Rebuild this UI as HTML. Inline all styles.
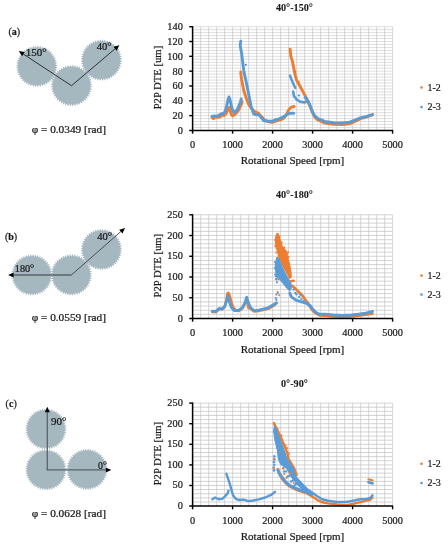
<!DOCTYPE html>
<html><head><meta charset="utf-8"><title>Figure</title>
<style>html,body{margin:0;padding:0;background:#fff}svg{display:block}</style></head>
<body>
<svg width="448" height="550" viewBox="0 0 448 550" font-family='"Liberation Serif", serif' fill="#1a1a1a">
<rect width="448" height="550" fill="#fff"/>
<path d="M55.30 66.40 L57.66 67.66 L55.17 68.63 L57.36 70.17 L54.76 70.83 L56.75 72.62 L54.10 72.96 L55.86 74.98 L53.18 75.00 L54.69 77.21 L52.03 76.91 L53.25 79.29 L50.65 78.67 L51.58 81.18 L49.07 80.25 L49.69 82.85 L47.31 81.63 L47.61 84.29 L45.40 82.78 L45.38 85.46 L43.36 83.70 L43.02 86.35 L41.23 84.36 L40.57 86.96 L39.03 84.77 L38.06 87.26 L36.80 84.90 L35.54 87.26 L34.57 84.77 L33.03 86.96 L32.37 84.36 L30.58 86.35 L30.24 83.70 L28.22 85.46 L28.20 82.78 L25.99 84.29 L26.29 81.63 L23.91 82.85 L24.53 80.25 L22.02 81.18 L22.95 78.67 L20.35 79.29 L21.57 76.91 L18.91 77.21 L20.42 75.00 L17.74 74.98 L19.50 72.96 L16.85 72.62 L18.84 70.83 L16.24 70.17 L18.43 68.63 L15.94 67.66 L18.30 66.40 L15.94 65.14 L18.43 64.17 L16.24 62.63 L18.84 61.97 L16.85 60.18 L19.50 59.84 L17.74 57.82 L20.42 57.80 L18.91 55.59 L21.57 55.89 L20.35 53.51 L22.95 54.13 L22.02 51.62 L24.53 52.55 L23.91 49.95 L26.29 51.17 L25.99 48.51 L28.20 50.02 L28.22 47.34 L30.24 49.10 L30.58 46.45 L32.37 48.44 L33.03 45.84 L34.57 48.03 L35.54 45.54 L36.80 47.90 L38.06 45.54 L39.03 48.03 L40.57 45.84 L41.23 48.44 L43.02 46.45 L43.36 49.10 L45.38 47.34 L45.40 50.02 L47.61 48.51 L47.31 51.17 L49.69 49.95 L49.07 52.55 L51.58 51.62 L50.65 54.13 L53.25 53.51 L52.03 55.89 L54.69 55.59 L53.18 57.80 L55.86 57.82 L54.10 59.84 L56.75 60.18 L54.76 61.97 L57.36 62.63 L55.17 64.17 L57.66 65.14Z" fill="#A5B7BF"/>
<path d="M90.00 85.60 L92.36 86.86 L89.87 87.83 L92.06 89.37 L89.46 90.03 L91.45 91.82 L88.80 92.16 L90.56 94.18 L87.88 94.20 L89.39 96.41 L86.73 96.11 L87.95 98.49 L85.35 97.87 L86.28 100.38 L83.77 99.45 L84.39 102.05 L82.01 100.83 L82.31 103.49 L80.10 101.98 L80.08 104.66 L78.06 102.90 L77.72 105.55 L75.93 103.56 L75.27 106.16 L73.73 103.97 L72.76 106.46 L71.50 104.10 L70.24 106.46 L69.27 103.97 L67.73 106.16 L67.07 103.56 L65.28 105.55 L64.94 102.90 L62.92 104.66 L62.90 101.98 L60.69 103.49 L60.99 100.83 L58.61 102.05 L59.23 99.45 L56.72 100.38 L57.65 97.87 L55.05 98.49 L56.27 96.11 L53.61 96.41 L55.12 94.20 L52.44 94.18 L54.20 92.16 L51.55 91.82 L53.54 90.03 L50.94 89.37 L53.13 87.83 L50.64 86.86 L53.00 85.60 L50.64 84.34 L53.13 83.37 L50.94 81.83 L53.54 81.17 L51.55 79.38 L54.20 79.04 L52.44 77.02 L55.12 77.00 L53.61 74.79 L56.27 75.09 L55.05 72.71 L57.65 73.33 L56.72 70.82 L59.23 71.75 L58.61 69.15 L60.99 70.37 L60.69 67.71 L62.90 69.22 L62.92 66.54 L64.94 68.30 L65.28 65.65 L67.07 67.64 L67.73 65.04 L69.27 67.23 L70.24 64.74 L71.50 67.10 L72.76 64.74 L73.73 67.23 L75.27 65.04 L75.93 67.64 L77.72 65.65 L78.06 68.30 L80.08 66.54 L80.10 69.22 L82.31 67.71 L82.01 70.37 L84.39 69.15 L83.77 71.75 L86.28 70.82 L85.35 73.33 L87.95 72.71 L86.73 75.09 L89.39 74.79 L87.88 77.00 L90.56 77.02 L88.80 79.04 L91.45 79.38 L89.46 81.17 L92.06 81.83 L89.87 83.37 L92.36 84.34Z" fill="#A5B7BF"/>
<path d="M119.90 60.10 L122.26 61.36 L119.77 62.33 L121.96 63.87 L119.36 64.53 L121.35 66.32 L118.70 66.66 L120.46 68.68 L117.78 68.70 L119.29 70.91 L116.63 70.61 L117.85 72.99 L115.25 72.37 L116.18 74.88 L113.67 73.95 L114.29 76.55 L111.91 75.33 L112.21 77.99 L110.00 76.48 L109.98 79.16 L107.96 77.40 L107.62 80.05 L105.83 78.06 L105.17 80.66 L103.63 78.47 L102.66 80.96 L101.40 78.60 L100.14 80.96 L99.17 78.47 L97.63 80.66 L96.97 78.06 L95.18 80.05 L94.84 77.40 L92.82 79.16 L92.80 76.48 L90.59 77.99 L90.89 75.33 L88.51 76.55 L89.13 73.95 L86.62 74.88 L87.55 72.37 L84.95 72.99 L86.17 70.61 L83.51 70.91 L85.02 68.70 L82.34 68.68 L84.10 66.66 L81.45 66.32 L83.44 64.53 L80.84 63.87 L83.03 62.33 L80.54 61.36 L82.90 60.10 L80.54 58.84 L83.03 57.87 L80.84 56.33 L83.44 55.67 L81.45 53.88 L84.10 53.54 L82.34 51.52 L85.02 51.50 L83.51 49.29 L86.17 49.59 L84.95 47.21 L87.55 47.83 L86.62 45.32 L89.13 46.25 L88.51 43.65 L90.89 44.87 L90.59 42.21 L92.80 43.72 L92.82 41.04 L94.84 42.80 L95.18 40.15 L96.97 42.14 L97.63 39.54 L99.17 41.73 L100.14 39.24 L101.40 41.60 L102.66 39.24 L103.63 41.73 L105.17 39.54 L105.83 42.14 L107.62 40.15 L107.96 42.80 L109.98 41.04 L110.00 43.72 L112.21 42.21 L111.91 44.87 L114.29 43.65 L113.67 46.25 L116.18 45.32 L115.25 47.83 L117.85 47.21 L116.63 49.59 L119.29 49.29 L117.78 51.50 L120.46 51.52 L118.70 53.54 L121.35 53.88 L119.36 55.67 L121.96 56.33 L119.77 57.87 L122.26 58.84Z" fill="#A5B7BF"/>
<line x1="71.50" y1="85.70" x2="23.40" y2="54.12" stroke="#222" stroke-width="0.90"/>
<polygon points="18.80,51.10 24.77,52.03 22.03,56.21" fill="#000"/>
<line x1="71.50" y1="85.70" x2="115.10" y2="48.76" stroke="#222" stroke-width="0.90"/>
<polygon points="119.30,45.20 116.72,50.66 113.49,46.85" fill="#000"/>
<text x="8.40" y="34.80" font-size="10.00" text-anchor="start" font-weight="normal" stroke="#1a1a1a" stroke-width="0.22" >(<tspan font-weight="bold">a</tspan>)</text>
<text x="25.70" y="56.00" font-size="9.80" text-anchor="start" font-weight="normal" textLength="20.90" lengthAdjust="spacingAndGlyphs" stroke="#1a1a1a" stroke-width="0.22" >150°</text>
<text x="96.80" y="50.00" font-size="9.80" text-anchor="start" font-weight="normal" textLength="14.80" lengthAdjust="spacingAndGlyphs" stroke="#1a1a1a" stroke-width="0.22" >40°</text>
<text x="68.80" y="132.90" font-size="9.80" text-anchor="middle" font-weight="normal" textLength="74.30" lengthAdjust="spacingAndGlyphs" stroke="#1a1a1a" stroke-width="0.22" >φ = 0.0349 [rad]</text>
<path d="M50.40 275.00 L52.76 276.26 L50.27 277.23 L52.46 278.77 L49.86 279.43 L51.85 281.22 L49.20 281.56 L50.96 283.58 L48.28 283.60 L49.79 285.81 L47.13 285.51 L48.35 287.89 L45.75 287.27 L46.68 289.78 L44.17 288.85 L44.79 291.45 L42.41 290.23 L42.71 292.89 L40.50 291.38 L40.48 294.06 L38.46 292.30 L38.12 294.95 L36.33 292.96 L35.67 295.56 L34.13 293.37 L33.16 295.86 L31.90 293.50 L30.64 295.86 L29.67 293.37 L28.13 295.56 L27.47 292.96 L25.68 294.95 L25.34 292.30 L23.32 294.06 L23.30 291.38 L21.09 292.89 L21.39 290.23 L19.01 291.45 L19.63 288.85 L17.12 289.78 L18.05 287.27 L15.45 287.89 L16.67 285.51 L14.01 285.81 L15.52 283.60 L12.84 283.58 L14.60 281.56 L11.95 281.22 L13.94 279.43 L11.34 278.77 L13.53 277.23 L11.04 276.26 L13.40 275.00 L11.04 273.74 L13.53 272.77 L11.34 271.23 L13.94 270.57 L11.95 268.78 L14.60 268.44 L12.84 266.42 L15.52 266.40 L14.01 264.19 L16.67 264.49 L15.45 262.11 L18.05 262.73 L17.12 260.22 L19.63 261.15 L19.01 258.55 L21.39 259.77 L21.09 257.11 L23.30 258.62 L23.32 255.94 L25.34 257.70 L25.68 255.05 L27.47 257.04 L28.13 254.44 L29.67 256.63 L30.64 254.14 L31.90 256.50 L33.16 254.14 L34.13 256.63 L35.67 254.44 L36.33 257.04 L38.12 255.05 L38.46 257.70 L40.48 255.94 L40.50 258.62 L42.71 257.11 L42.41 259.77 L44.79 258.55 L44.17 261.15 L46.68 260.22 L45.75 262.73 L48.35 262.11 L47.13 264.49 L49.79 264.19 L48.28 266.40 L50.96 266.42 L49.20 268.44 L51.85 268.78 L49.86 270.57 L52.46 271.23 L50.27 272.77 L52.76 273.74Z" fill="#A5B7BF"/>
<path d="M89.80 274.90 L92.16 276.16 L89.67 277.13 L91.86 278.67 L89.26 279.33 L91.25 281.12 L88.60 281.46 L90.36 283.48 L87.68 283.50 L89.19 285.71 L86.53 285.41 L87.75 287.79 L85.15 287.17 L86.08 289.68 L83.57 288.75 L84.19 291.35 L81.81 290.13 L82.11 292.79 L79.90 291.28 L79.88 293.96 L77.86 292.20 L77.52 294.85 L75.73 292.86 L75.07 295.46 L73.53 293.27 L72.56 295.76 L71.30 293.40 L70.04 295.76 L69.07 293.27 L67.53 295.46 L66.87 292.86 L65.08 294.85 L64.74 292.20 L62.72 293.96 L62.70 291.28 L60.49 292.79 L60.79 290.13 L58.41 291.35 L59.03 288.75 L56.52 289.68 L57.45 287.17 L54.85 287.79 L56.07 285.41 L53.41 285.71 L54.92 283.50 L52.24 283.48 L54.00 281.46 L51.35 281.12 L53.34 279.33 L50.74 278.67 L52.93 277.13 L50.44 276.16 L52.80 274.90 L50.44 273.64 L52.93 272.67 L50.74 271.13 L53.34 270.47 L51.35 268.68 L54.00 268.34 L52.24 266.32 L54.92 266.30 L53.41 264.09 L56.07 264.39 L54.85 262.01 L57.45 262.63 L56.52 260.12 L59.03 261.05 L58.41 258.45 L60.79 259.67 L60.49 257.01 L62.70 258.52 L62.72 255.84 L64.74 257.60 L65.08 254.95 L66.87 256.94 L67.53 254.34 L69.07 256.53 L70.04 254.04 L71.30 256.40 L72.56 254.04 L73.53 256.53 L75.07 254.34 L75.73 256.94 L77.52 254.95 L77.86 257.60 L79.88 255.84 L79.90 258.52 L82.11 257.01 L81.81 259.67 L84.19 258.45 L83.57 261.05 L86.08 260.12 L85.15 262.63 L87.75 262.01 L86.53 264.39 L89.19 264.09 L87.68 266.30 L90.36 266.32 L88.60 268.34 L91.25 268.68 L89.26 270.47 L91.86 271.13 L89.67 272.67 L92.16 273.64Z" fill="#A5B7BF"/>
<path d="M119.90 249.50 L122.26 250.76 L119.77 251.73 L121.96 253.27 L119.36 253.93 L121.35 255.72 L118.70 256.06 L120.46 258.08 L117.78 258.10 L119.29 260.31 L116.63 260.01 L117.85 262.39 L115.25 261.77 L116.18 264.28 L113.67 263.35 L114.29 265.95 L111.91 264.73 L112.21 267.39 L110.00 265.88 L109.98 268.56 L107.96 266.80 L107.62 269.45 L105.83 267.46 L105.17 270.06 L103.63 267.87 L102.66 270.36 L101.40 268.00 L100.14 270.36 L99.17 267.87 L97.63 270.06 L96.97 267.46 L95.18 269.45 L94.84 266.80 L92.82 268.56 L92.80 265.88 L90.59 267.39 L90.89 264.73 L88.51 265.95 L89.13 263.35 L86.62 264.28 L87.55 261.77 L84.95 262.39 L86.17 260.01 L83.51 260.31 L85.02 258.10 L82.34 258.08 L84.10 256.06 L81.45 255.72 L83.44 253.93 L80.84 253.27 L83.03 251.73 L80.54 250.76 L82.90 249.50 L80.54 248.24 L83.03 247.27 L80.84 245.73 L83.44 245.07 L81.45 243.28 L84.10 242.94 L82.34 240.92 L85.02 240.90 L83.51 238.69 L86.17 238.99 L84.95 236.61 L87.55 237.23 L86.62 234.72 L89.13 235.65 L88.51 233.05 L90.89 234.27 L90.59 231.61 L92.80 233.12 L92.82 230.44 L94.84 232.20 L95.18 229.55 L96.97 231.54 L97.63 228.94 L99.17 231.13 L100.14 228.64 L101.40 231.00 L102.66 228.64 L103.63 231.13 L105.17 228.94 L105.83 231.54 L107.62 229.55 L107.96 232.20 L109.98 230.44 L110.00 233.12 L112.21 231.61 L111.91 234.27 L114.29 233.05 L113.67 235.65 L116.18 234.72 L115.25 237.23 L117.85 236.61 L116.63 238.99 L119.29 238.69 L117.78 240.90 L120.46 240.92 L118.70 242.94 L121.35 243.28 L119.36 245.07 L121.96 245.73 L119.77 247.27 L122.26 248.24Z" fill="#A5B7BF"/>
<line x1="71.40" y1="275.00" x2="13.60" y2="275.00" stroke="#5c6569" stroke-width="1.50"/>
<polygon points="8.10,275.00 13.60,272.50 13.60,277.50" fill="#000"/>
<line x1="71.40" y1="275.00" x2="120.87" y2="231.53" stroke="#4a4f52" stroke-width="1.00"/>
<polygon points="125.00,227.90 122.52,233.41 119.22,229.65" fill="#000"/>
<text x="4.90" y="240.30" font-size="10.00" text-anchor="start" font-weight="normal" stroke="#1a1a1a" stroke-width="0.22" >(<tspan font-weight="bold">b</tspan>)</text>
<text x="14.80" y="271.50" font-size="9.80" text-anchor="start" font-weight="normal" textLength="19.40" lengthAdjust="spacingAndGlyphs" stroke="#1a1a1a" stroke-width="0.22" >180°</text>
<text x="97.30" y="239.50" font-size="9.80" text-anchor="start" font-weight="normal" textLength="14.80" lengthAdjust="spacingAndGlyphs" stroke="#1a1a1a" stroke-width="0.22" >40°</text>
<text x="68.80" y="320.60" font-size="9.80" text-anchor="middle" font-weight="normal" textLength="74.30" lengthAdjust="spacingAndGlyphs" stroke="#1a1a1a" stroke-width="0.22" >φ = 0.0559 [rad]</text>
<path d="M64.50 429.00 L66.86 430.26 L64.37 431.23 L66.56 432.77 L63.96 433.43 L65.95 435.22 L63.30 435.56 L65.06 437.58 L62.38 437.60 L63.89 439.81 L61.23 439.51 L62.45 441.89 L59.85 441.27 L60.78 443.78 L58.27 442.85 L58.89 445.45 L56.51 444.23 L56.81 446.89 L54.60 445.38 L54.58 448.06 L52.56 446.30 L52.22 448.95 L50.43 446.96 L49.77 449.56 L48.23 447.37 L47.26 449.86 L46.00 447.50 L44.74 449.86 L43.77 447.37 L42.23 449.56 L41.57 446.96 L39.78 448.95 L39.44 446.30 L37.42 448.06 L37.40 445.38 L35.19 446.89 L35.49 444.23 L33.11 445.45 L33.73 442.85 L31.22 443.78 L32.15 441.27 L29.55 441.89 L30.77 439.51 L28.11 439.81 L29.62 437.60 L26.94 437.58 L28.70 435.56 L26.05 435.22 L28.04 433.43 L25.44 432.77 L27.63 431.23 L25.14 430.26 L27.50 429.00 L25.14 427.74 L27.63 426.77 L25.44 425.23 L28.04 424.57 L26.05 422.78 L28.70 422.44 L26.94 420.42 L29.62 420.40 L28.11 418.19 L30.77 418.49 L29.55 416.11 L32.15 416.73 L31.22 414.22 L33.73 415.15 L33.11 412.55 L35.49 413.77 L35.19 411.11 L37.40 412.62 L37.42 409.94 L39.44 411.70 L39.78 409.05 L41.57 411.04 L42.23 408.44 L43.77 410.63 L44.74 408.14 L46.00 410.50 L47.26 408.14 L48.23 410.63 L49.77 408.44 L50.43 411.04 L52.22 409.05 L52.56 411.70 L54.58 409.94 L54.60 412.62 L56.81 411.11 L56.51 413.77 L58.89 412.55 L58.27 415.15 L60.78 414.22 L59.85 416.73 L62.45 416.11 L61.23 418.49 L63.89 418.19 L62.38 420.40 L65.06 420.42 L63.30 422.44 L65.95 422.78 L63.96 424.57 L66.56 425.23 L64.37 426.77 L66.86 427.74Z" fill="#A5B7BF"/>
<path d="M64.50 469.70 L66.86 470.96 L64.37 471.93 L66.56 473.47 L63.96 474.13 L65.95 475.92 L63.30 476.26 L65.06 478.28 L62.38 478.30 L63.89 480.51 L61.23 480.21 L62.45 482.59 L59.85 481.97 L60.78 484.48 L58.27 483.55 L58.89 486.15 L56.51 484.93 L56.81 487.59 L54.60 486.08 L54.58 488.76 L52.56 487.00 L52.22 489.65 L50.43 487.66 L49.77 490.26 L48.23 488.07 L47.26 490.56 L46.00 488.20 L44.74 490.56 L43.77 488.07 L42.23 490.26 L41.57 487.66 L39.78 489.65 L39.44 487.00 L37.42 488.76 L37.40 486.08 L35.19 487.59 L35.49 484.93 L33.11 486.15 L33.73 483.55 L31.22 484.48 L32.15 481.97 L29.55 482.59 L30.77 480.21 L28.11 480.51 L29.62 478.30 L26.94 478.28 L28.70 476.26 L26.05 475.92 L28.04 474.13 L25.44 473.47 L27.63 471.93 L25.14 470.96 L27.50 469.70 L25.14 468.44 L27.63 467.47 L25.44 465.93 L28.04 465.27 L26.05 463.48 L28.70 463.14 L26.94 461.12 L29.62 461.10 L28.11 458.89 L30.77 459.19 L29.55 456.81 L32.15 457.43 L31.22 454.92 L33.73 455.85 L33.11 453.25 L35.49 454.47 L35.19 451.81 L37.40 453.32 L37.42 450.64 L39.44 452.40 L39.78 449.75 L41.57 451.74 L42.23 449.14 L43.77 451.33 L44.74 448.84 L46.00 451.20 L47.26 448.84 L48.23 451.33 L49.77 449.14 L50.43 451.74 L52.22 449.75 L52.56 452.40 L54.58 450.64 L54.60 453.32 L56.81 451.81 L56.51 454.47 L58.89 453.25 L58.27 455.85 L60.78 454.92 L59.85 457.43 L62.45 456.81 L61.23 459.19 L63.89 458.89 L62.38 461.10 L65.06 461.12 L63.30 463.14 L65.95 463.48 L63.96 465.27 L66.56 465.93 L64.37 467.47 L66.86 468.44Z" fill="#A5B7BF"/>
<path d="M105.50 469.40 L107.86 470.66 L105.37 471.63 L107.56 473.17 L104.96 473.83 L106.95 475.62 L104.30 475.96 L106.06 477.98 L103.38 478.00 L104.89 480.21 L102.23 479.91 L103.45 482.29 L100.85 481.67 L101.78 484.18 L99.27 483.25 L99.89 485.85 L97.51 484.63 L97.81 487.29 L95.60 485.78 L95.58 488.46 L93.56 486.70 L93.22 489.35 L91.43 487.36 L90.77 489.96 L89.23 487.77 L88.26 490.26 L87.00 487.90 L85.74 490.26 L84.77 487.77 L83.23 489.96 L82.57 487.36 L80.78 489.35 L80.44 486.70 L78.42 488.46 L78.40 485.78 L76.19 487.29 L76.49 484.63 L74.11 485.85 L74.73 483.25 L72.22 484.18 L73.15 481.67 L70.55 482.29 L71.77 479.91 L69.11 480.21 L70.62 478.00 L67.94 477.98 L69.70 475.96 L67.05 475.62 L69.04 473.83 L66.44 473.17 L68.63 471.63 L66.14 470.66 L68.50 469.40 L66.14 468.14 L68.63 467.17 L66.44 465.63 L69.04 464.97 L67.05 463.18 L69.70 462.84 L67.94 460.82 L70.62 460.80 L69.11 458.59 L71.77 458.89 L70.55 456.51 L73.15 457.13 L72.22 454.62 L74.73 455.55 L74.11 452.95 L76.49 454.17 L76.19 451.51 L78.40 453.02 L78.42 450.34 L80.44 452.10 L80.78 449.45 L82.57 451.44 L83.23 448.84 L84.77 451.03 L85.74 448.54 L87.00 450.90 L88.26 448.54 L89.23 451.03 L90.77 448.84 L91.43 451.44 L93.22 449.45 L93.56 452.10 L95.58 450.34 L95.60 453.02 L97.81 451.51 L97.51 454.17 L99.89 452.95 L99.27 455.55 L101.78 454.62 L100.85 457.13 L103.45 456.51 L102.23 458.89 L104.89 458.59 L103.38 460.80 L106.06 460.82 L104.30 462.84 L106.95 463.18 L104.96 464.97 L107.56 465.63 L105.37 467.17 L107.86 468.14Z" fill="#A5B7BF"/>
<line x1="47.30" y1="469.90" x2="47.30" y2="412.30" stroke="#59636a" stroke-width="1.30"/>
<polygon points="47.30,406.80 49.80,412.30 44.80,412.30" fill="#000"/>
<line x1="47.30" y1="469.90" x2="105.80" y2="469.90" stroke="#59636a" stroke-width="1.30"/>
<polygon points="111.30,469.90 105.80,472.40 105.80,467.40" fill="#000"/>
<circle cx="47.3" cy="469.9" r="0.65" fill="#59636a"/>
<text x="5.60" y="406.80" font-size="10.00" text-anchor="start" font-weight="normal" stroke="#1a1a1a" stroke-width="0.22" >(<tspan font-weight="bold">c</tspan>)</text>
<text x="50.90" y="425.00" font-size="9.80" text-anchor="start" font-weight="normal" textLength="15.40" lengthAdjust="spacingAndGlyphs" stroke="#1a1a1a" stroke-width="0.22" >90°</text>
<text x="98.00" y="469.00" font-size="9.80" text-anchor="start" font-weight="normal" textLength="8.80" lengthAdjust="spacingAndGlyphs" stroke="#1a1a1a" stroke-width="0.22" >0°</text>
<text x="68.80" y="516.70" font-size="9.80" text-anchor="middle" font-weight="normal" textLength="74.30" lengthAdjust="spacingAndGlyphs" stroke="#1a1a1a" stroke-width="0.22" >φ = 0.0628 [rad]</text>
<line x1="192.60" y1="127.49" x2="392.50" y2="127.49" stroke="#C2C2C2" stroke-width="0.55"/>
<line x1="192.60" y1="124.52" x2="392.50" y2="124.52" stroke="#C2C2C2" stroke-width="0.55"/>
<line x1="192.60" y1="121.56" x2="392.50" y2="121.56" stroke="#C2C2C2" stroke-width="0.55"/>
<line x1="192.60" y1="118.59" x2="392.50" y2="118.59" stroke="#C2C2C2" stroke-width="0.55"/>
<line x1="192.60" y1="115.63" x2="392.50" y2="115.63" stroke="#C2C2C2" stroke-width="0.55"/>
<line x1="192.60" y1="112.66" x2="392.50" y2="112.66" stroke="#C2C2C2" stroke-width="0.55"/>
<line x1="192.60" y1="109.70" x2="392.50" y2="109.70" stroke="#C2C2C2" stroke-width="0.55"/>
<line x1="192.60" y1="106.74" x2="392.50" y2="106.74" stroke="#C2C2C2" stroke-width="0.55"/>
<line x1="192.60" y1="103.77" x2="392.50" y2="103.77" stroke="#C2C2C2" stroke-width="0.55"/>
<line x1="192.60" y1="100.81" x2="392.50" y2="100.81" stroke="#C2C2C2" stroke-width="0.55"/>
<line x1="192.60" y1="97.84" x2="392.50" y2="97.84" stroke="#C2C2C2" stroke-width="0.55"/>
<line x1="192.60" y1="94.88" x2="392.50" y2="94.88" stroke="#C2C2C2" stroke-width="0.55"/>
<line x1="192.60" y1="91.91" x2="392.50" y2="91.91" stroke="#C2C2C2" stroke-width="0.55"/>
<line x1="192.60" y1="88.95" x2="392.50" y2="88.95" stroke="#C2C2C2" stroke-width="0.55"/>
<line x1="192.60" y1="85.99" x2="392.50" y2="85.99" stroke="#C2C2C2" stroke-width="0.55"/>
<line x1="192.60" y1="83.02" x2="392.50" y2="83.02" stroke="#C2C2C2" stroke-width="0.55"/>
<line x1="192.60" y1="80.06" x2="392.50" y2="80.06" stroke="#C2C2C2" stroke-width="0.55"/>
<line x1="192.60" y1="77.09" x2="392.50" y2="77.09" stroke="#C2C2C2" stroke-width="0.55"/>
<line x1="192.60" y1="74.13" x2="392.50" y2="74.13" stroke="#C2C2C2" stroke-width="0.55"/>
<line x1="192.60" y1="71.16" x2="392.50" y2="71.16" stroke="#C2C2C2" stroke-width="0.55"/>
<line x1="192.60" y1="68.20" x2="392.50" y2="68.20" stroke="#C2C2C2" stroke-width="0.55"/>
<line x1="192.60" y1="65.24" x2="392.50" y2="65.24" stroke="#C2C2C2" stroke-width="0.55"/>
<line x1="192.60" y1="62.27" x2="392.50" y2="62.27" stroke="#C2C2C2" stroke-width="0.55"/>
<line x1="192.60" y1="59.31" x2="392.50" y2="59.31" stroke="#C2C2C2" stroke-width="0.55"/>
<line x1="192.60" y1="56.34" x2="392.50" y2="56.34" stroke="#C2C2C2" stroke-width="0.55"/>
<line x1="192.60" y1="53.38" x2="392.50" y2="53.38" stroke="#C2C2C2" stroke-width="0.55"/>
<line x1="192.60" y1="50.41" x2="392.50" y2="50.41" stroke="#C2C2C2" stroke-width="0.55"/>
<line x1="192.60" y1="47.45" x2="392.50" y2="47.45" stroke="#C2C2C2" stroke-width="0.55"/>
<line x1="192.60" y1="44.49" x2="392.50" y2="44.49" stroke="#C2C2C2" stroke-width="0.55"/>
<line x1="192.60" y1="41.52" x2="392.50" y2="41.52" stroke="#C2C2C2" stroke-width="0.55"/>
<line x1="192.60" y1="38.56" x2="392.50" y2="38.56" stroke="#C2C2C2" stroke-width="0.55"/>
<line x1="192.60" y1="35.59" x2="392.50" y2="35.59" stroke="#C2C2C2" stroke-width="0.55"/>
<line x1="192.60" y1="32.63" x2="392.50" y2="32.63" stroke="#C2C2C2" stroke-width="0.55"/>
<line x1="192.60" y1="29.66" x2="392.50" y2="29.66" stroke="#C2C2C2" stroke-width="0.55"/>
<line x1="192.60" y1="26.70" x2="392.50" y2="26.70" stroke="#C2C2C2" stroke-width="0.55"/>
<line x1="200.60" y1="26.70" x2="200.60" y2="130.45" stroke="#C2C2C2" stroke-width="0.65"/>
<line x1="208.60" y1="26.70" x2="208.60" y2="130.45" stroke="#C2C2C2" stroke-width="0.65"/>
<line x1="216.60" y1="26.70" x2="216.60" y2="130.45" stroke="#C2C2C2" stroke-width="0.65"/>
<line x1="224.60" y1="26.70" x2="224.60" y2="130.45" stroke="#C2C2C2" stroke-width="0.65"/>
<line x1="232.60" y1="26.70" x2="232.60" y2="130.45" stroke="#C2C2C2" stroke-width="0.65"/>
<line x1="240.60" y1="26.70" x2="240.60" y2="130.45" stroke="#C2C2C2" stroke-width="0.65"/>
<line x1="248.60" y1="26.70" x2="248.60" y2="130.45" stroke="#C2C2C2" stroke-width="0.65"/>
<line x1="256.60" y1="26.70" x2="256.60" y2="130.45" stroke="#C2C2C2" stroke-width="0.65"/>
<line x1="264.60" y1="26.70" x2="264.60" y2="130.45" stroke="#C2C2C2" stroke-width="0.65"/>
<line x1="272.60" y1="26.70" x2="272.60" y2="130.45" stroke="#C2C2C2" stroke-width="0.65"/>
<line x1="280.60" y1="26.70" x2="280.60" y2="130.45" stroke="#C2C2C2" stroke-width="0.65"/>
<line x1="288.60" y1="26.70" x2="288.60" y2="130.45" stroke="#C2C2C2" stroke-width="0.65"/>
<line x1="296.60" y1="26.70" x2="296.60" y2="130.45" stroke="#C2C2C2" stroke-width="0.65"/>
<line x1="304.60" y1="26.70" x2="304.60" y2="130.45" stroke="#C2C2C2" stroke-width="0.65"/>
<line x1="312.60" y1="26.70" x2="312.60" y2="130.45" stroke="#C2C2C2" stroke-width="0.65"/>
<line x1="320.60" y1="26.70" x2="320.60" y2="130.45" stroke="#C2C2C2" stroke-width="0.65"/>
<line x1="328.60" y1="26.70" x2="328.60" y2="130.45" stroke="#C2C2C2" stroke-width="0.65"/>
<line x1="336.60" y1="26.70" x2="336.60" y2="130.45" stroke="#C2C2C2" stroke-width="0.65"/>
<line x1="344.60" y1="26.70" x2="344.60" y2="130.45" stroke="#C2C2C2" stroke-width="0.65"/>
<line x1="352.60" y1="26.70" x2="352.60" y2="130.45" stroke="#C2C2C2" stroke-width="0.65"/>
<line x1="360.60" y1="26.70" x2="360.60" y2="130.45" stroke="#C2C2C2" stroke-width="0.65"/>
<line x1="368.60" y1="26.70" x2="368.60" y2="130.45" stroke="#C2C2C2" stroke-width="0.65"/>
<line x1="376.60" y1="26.70" x2="376.60" y2="130.45" stroke="#C2C2C2" stroke-width="0.65"/>
<line x1="384.60" y1="26.70" x2="384.60" y2="130.45" stroke="#C2C2C2" stroke-width="0.65"/>
<line x1="392.60" y1="26.70" x2="392.60" y2="130.45" stroke="#C2C2C2" stroke-width="0.65"/>
<polyline points="212.1,117.5 213.5,118.6 215.3,117.0 217.5,117.3 219.7,117.0 222.0,115.2 224.2,115.7 226.0,113.5 227.8,109.9 229.1,107.2 230.0,109.9 231.3,114.4 232.7,115.9 234.9,114.4 237.1,112.1 239.4,108.6 241.2,104.5 242.1,101.6" fill="none" stroke="#ED7D31" stroke-width="2.90" stroke-linecap="round" stroke-linejoin="round"/>
<polyline points="240.8,71.9 241.1,75.9 241.7,80.0 243.8,90.7 246.5,98.7 248.5,104.1 251.5,108.5 254.6,111.5 257.9,112.8 261.2,116.2 264.4,119.9 268.4,121.8 272.4,122.3 276.4,120.8 280.4,119.9 283.8,118.2 286.5,114.8 288.5,110.1 291.2,107.1 294.1,106.5" fill="none" stroke="#ED7D31" stroke-width="2.90" stroke-linecap="round" stroke-linejoin="round"/>
<polyline points="290.1,49.1 290.8,55.8 292.4,61.2 293.7,67.9 295.1,74.6 296.5,80.0 299.9,86.0 303.2,92.1 305.6,96.7 308.6,103.0 310.6,107.6 312.6,113.0 315.0,117.2 317.5,119.8 324.6,123.0 333.6,124.3 342.5,124.6 349.6,123.7 355.0,121.4 360.4,118.7 366.6,116.8 372.5,114.8" fill="none" stroke="#ED7D31" stroke-width="2.90" stroke-linecap="round" stroke-linejoin="round"/>
<polyline points="211.9,116.3 213.9,115.9 216.6,116.3 219.3,115.0 221.5,113.7 223.3,113.7 225.1,111.4 226.9,105.2 228.0,99.8 228.9,96.9 229.8,98.9 230.4,101.6 231.8,107.9 233.6,112.3 235.8,111.4 238.0,107.9 240.3,102.5 241.2,98.9" fill="none" stroke="#5B9BD5" stroke-width="2.90" stroke-linecap="round" stroke-linejoin="round"/>
<polyline points="240.8,41.1 240.2,45.1 240.8,49.1 241.7,53.8 242.4,59.8 243.1,65.2 243.8,70.5 244.8,75.9 245.8,80.0 248.5,93.4 251.2,106.8 253.9,114.2 256.6,114.8 258.6,114.6 261.2,117.5 263.9,120.8 268.4,121.2 272.4,121.2 275.1,119.9 279.1,118.8 283.1,117.2 286.5,114.8 289.8,113.2 293.8,113.2" fill="none" stroke="#5B9BD5" stroke-width="2.90" stroke-linecap="round" stroke-linejoin="round"/>
<polyline points="290.0,75.6 291.7,80.0 293.9,85.1 295.4,88.0" fill="none" stroke="#5B9BD5" stroke-width="2.50" stroke-linecap="round" stroke-linejoin="round"/>
<polyline points="293.2,91.6 293.9,96.0 296.8,99.6 300.5,101.8 304.8,102.5 307.0,100.8" fill="none" stroke="#5B9BD5" stroke-width="2.60" stroke-linecap="round" stroke-linejoin="round"/>
<polyline points="305.0,97.5 306.6,98.7 308.6,102.1 310.6,106.8 312.6,112.1 315.0,116.2 317.5,118.2 324.6,121.4 333.6,122.7 342.5,123.0 349.6,122.1 355.0,120.0 360.4,117.9 366.6,116.4 372.5,114.6" fill="none" stroke="#5B9BD5" stroke-width="2.90" stroke-linecap="round" stroke-linejoin="round"/>
<circle cx="245.8" cy="64.8" r="1.0" fill="#4f81b5"/>
<circle cx="298.9" cy="95.6" r="1.0" fill="#4f81b5"/>
<circle cx="304.6" cy="102.3" r="0.8" fill="#c9793f"/>
<circle cx="307.6" cy="102.6" r="0.8" fill="#c9793f"/>
<circle cx="294.9" cy="87.5" r="0.8" fill="#c9793f"/>
<circle cx="299.0" cy="81.5" r="0.8" fill="#c9793f"/>
<circle cx="295.6" cy="71.5" r="0.8" fill="#c9793f"/>
<line x1="192.60" y1="26.10" x2="192.60" y2="133.65" stroke="#000" stroke-width="1.5"/>
<line x1="189.20" y1="130.45" x2="393.10" y2="130.45" stroke="#000" stroke-width="1.5"/>
<text x="182.80" y="133.85" font-size="10.30" text-anchor="end" font-weight="normal" stroke="#1a1a1a" stroke-width="0.22" >0</text>
<line x1="189.20" y1="115.63" x2="192.60" y2="115.63" stroke="#000" stroke-width="1.4"/>
<text x="182.80" y="119.03" font-size="10.30" text-anchor="end" font-weight="normal" stroke="#1a1a1a" stroke-width="0.22" >20</text>
<line x1="189.20" y1="100.81" x2="192.60" y2="100.81" stroke="#000" stroke-width="1.4"/>
<text x="182.80" y="104.21" font-size="10.30" text-anchor="end" font-weight="normal" stroke="#1a1a1a" stroke-width="0.22" >40</text>
<line x1="189.20" y1="85.99" x2="192.60" y2="85.99" stroke="#000" stroke-width="1.4"/>
<text x="182.80" y="89.39" font-size="10.30" text-anchor="end" font-weight="normal" stroke="#1a1a1a" stroke-width="0.22" >60</text>
<line x1="189.20" y1="71.16" x2="192.60" y2="71.16" stroke="#000" stroke-width="1.4"/>
<text x="182.80" y="74.56" font-size="10.30" text-anchor="end" font-weight="normal" stroke="#1a1a1a" stroke-width="0.22" >80</text>
<line x1="189.20" y1="56.34" x2="192.60" y2="56.34" stroke="#000" stroke-width="1.4"/>
<text x="182.80" y="59.74" font-size="10.30" text-anchor="end" font-weight="normal" stroke="#1a1a1a" stroke-width="0.22" >100</text>
<line x1="189.20" y1="41.52" x2="192.60" y2="41.52" stroke="#000" stroke-width="1.4"/>
<text x="182.80" y="44.92" font-size="10.30" text-anchor="end" font-weight="normal" stroke="#1a1a1a" stroke-width="0.22" >120</text>
<line x1="189.20" y1="26.70" x2="192.60" y2="26.70" stroke="#000" stroke-width="1.4"/>
<text x="182.80" y="30.10" font-size="10.30" text-anchor="end" font-weight="normal" stroke="#1a1a1a" stroke-width="0.22" >140</text>
<text x="192.60" y="148.05" font-size="10.30" text-anchor="middle" font-weight="normal" stroke="#1a1a1a" stroke-width="0.22" >0</text>
<line x1="232.60" y1="130.45" x2="232.60" y2="133.65" stroke="#000" stroke-width="1.4"/>
<text x="232.60" y="148.05" font-size="10.30" text-anchor="middle" font-weight="normal" stroke="#1a1a1a" stroke-width="0.22" >1000</text>
<line x1="272.60" y1="130.45" x2="272.60" y2="133.65" stroke="#000" stroke-width="1.4"/>
<text x="272.60" y="148.05" font-size="10.30" text-anchor="middle" font-weight="normal" stroke="#1a1a1a" stroke-width="0.22" >2000</text>
<line x1="312.60" y1="130.45" x2="312.60" y2="133.65" stroke="#000" stroke-width="1.4"/>
<text x="312.60" y="148.05" font-size="10.30" text-anchor="middle" font-weight="normal" stroke="#1a1a1a" stroke-width="0.22" >3000</text>
<line x1="352.60" y1="130.45" x2="352.60" y2="133.65" stroke="#000" stroke-width="1.4"/>
<text x="352.60" y="148.05" font-size="10.30" text-anchor="middle" font-weight="normal" stroke="#1a1a1a" stroke-width="0.22" >4000</text>
<line x1="392.60" y1="130.45" x2="392.60" y2="133.65" stroke="#000" stroke-width="1.4"/>
<text x="392.60" y="148.05" font-size="10.30" text-anchor="middle" font-weight="normal" stroke="#1a1a1a" stroke-width="0.22" >5000</text>
<text x="292.50" y="164.45" font-size="10.30" text-anchor="middle" font-weight="normal" textLength="103.50" lengthAdjust="spacingAndGlyphs" stroke="#1a1a1a" stroke-width="0.22" >Rotational Speed [rpm]</text>
<text x="0.00" y="0.00" font-size="10.30" text-anchor="middle" font-weight="normal" textLength="63.50" lengthAdjust="spacingAndGlyphs" stroke="#1a1a1a" stroke-width="0.22" transform="translate(160.9,77.57) rotate(-90)">P2P DTE [um]</text>
<text x="294.40" y="10.90" font-size="10.20" text-anchor="middle" font-weight="bold" stroke="#1a1a1a" stroke-width="0.08" >40°-150°</text>
<circle cx="421.5" cy="87.5" r="1.3" fill="#ED7D31"/>
<circle cx="421.5" cy="107.1" r="1.3" fill="#5B9BD5"/>
<text x="427.60" y="91.00" font-size="10.20" text-anchor="start" font-weight="normal" textLength="13.20" lengthAdjust="spacingAndGlyphs" stroke="#1a1a1a" stroke-width="0.22" >1-2</text>
<text x="427.40" y="110.20" font-size="10.20" text-anchor="start" font-weight="normal" textLength="13.40" lengthAdjust="spacingAndGlyphs" stroke="#1a1a1a" stroke-width="0.22" >2-3</text>
<line x1="192.60" y1="314.35" x2="392.50" y2="314.35" stroke="#ACACAC" stroke-width="0.55"/>
<line x1="192.60" y1="310.20" x2="392.50" y2="310.20" stroke="#ACACAC" stroke-width="0.55"/>
<line x1="192.60" y1="306.06" x2="392.50" y2="306.06" stroke="#ACACAC" stroke-width="0.55"/>
<line x1="192.60" y1="301.91" x2="392.50" y2="301.91" stroke="#ACACAC" stroke-width="0.55"/>
<line x1="192.60" y1="297.76" x2="392.50" y2="297.76" stroke="#ACACAC" stroke-width="0.55"/>
<line x1="192.60" y1="293.61" x2="392.50" y2="293.61" stroke="#ACACAC" stroke-width="0.55"/>
<line x1="192.60" y1="289.46" x2="392.50" y2="289.46" stroke="#ACACAC" stroke-width="0.55"/>
<line x1="192.60" y1="285.32" x2="392.50" y2="285.32" stroke="#ACACAC" stroke-width="0.55"/>
<line x1="192.60" y1="281.17" x2="392.50" y2="281.17" stroke="#ACACAC" stroke-width="0.55"/>
<line x1="192.60" y1="277.02" x2="392.50" y2="277.02" stroke="#ACACAC" stroke-width="0.55"/>
<line x1="192.60" y1="272.87" x2="392.50" y2="272.87" stroke="#ACACAC" stroke-width="0.55"/>
<line x1="192.60" y1="268.72" x2="392.50" y2="268.72" stroke="#ACACAC" stroke-width="0.55"/>
<line x1="192.60" y1="264.58" x2="392.50" y2="264.58" stroke="#ACACAC" stroke-width="0.55"/>
<line x1="192.60" y1="260.43" x2="392.50" y2="260.43" stroke="#ACACAC" stroke-width="0.55"/>
<line x1="192.60" y1="256.28" x2="392.50" y2="256.28" stroke="#ACACAC" stroke-width="0.55"/>
<line x1="192.60" y1="252.13" x2="392.50" y2="252.13" stroke="#ACACAC" stroke-width="0.55"/>
<line x1="192.60" y1="247.98" x2="392.50" y2="247.98" stroke="#ACACAC" stroke-width="0.55"/>
<line x1="192.60" y1="243.84" x2="392.50" y2="243.84" stroke="#ACACAC" stroke-width="0.55"/>
<line x1="192.60" y1="239.69" x2="392.50" y2="239.69" stroke="#ACACAC" stroke-width="0.55"/>
<line x1="192.60" y1="235.54" x2="392.50" y2="235.54" stroke="#ACACAC" stroke-width="0.55"/>
<line x1="192.60" y1="231.39" x2="392.50" y2="231.39" stroke="#ACACAC" stroke-width="0.55"/>
<line x1="192.60" y1="227.24" x2="392.50" y2="227.24" stroke="#ACACAC" stroke-width="0.55"/>
<line x1="192.60" y1="223.10" x2="392.50" y2="223.10" stroke="#ACACAC" stroke-width="0.55"/>
<line x1="192.60" y1="218.95" x2="392.50" y2="218.95" stroke="#ACACAC" stroke-width="0.55"/>
<line x1="192.60" y1="214.80" x2="392.50" y2="214.80" stroke="#ACACAC" stroke-width="0.55"/>
<line x1="200.60" y1="214.80" x2="200.60" y2="318.50" stroke="#C2C2C2" stroke-width="0.65"/>
<line x1="208.60" y1="214.80" x2="208.60" y2="318.50" stroke="#C2C2C2" stroke-width="0.65"/>
<line x1="216.60" y1="214.80" x2="216.60" y2="318.50" stroke="#C2C2C2" stroke-width="0.65"/>
<line x1="224.60" y1="214.80" x2="224.60" y2="318.50" stroke="#C2C2C2" stroke-width="0.65"/>
<line x1="232.60" y1="214.80" x2="232.60" y2="318.50" stroke="#C2C2C2" stroke-width="0.65"/>
<line x1="240.60" y1="214.80" x2="240.60" y2="318.50" stroke="#C2C2C2" stroke-width="0.65"/>
<line x1="248.60" y1="214.80" x2="248.60" y2="318.50" stroke="#C2C2C2" stroke-width="0.65"/>
<line x1="256.60" y1="214.80" x2="256.60" y2="318.50" stroke="#C2C2C2" stroke-width="0.65"/>
<line x1="264.60" y1="214.80" x2="264.60" y2="318.50" stroke="#C2C2C2" stroke-width="0.65"/>
<line x1="272.60" y1="214.80" x2="272.60" y2="318.50" stroke="#C2C2C2" stroke-width="0.65"/>
<line x1="280.60" y1="214.80" x2="280.60" y2="318.50" stroke="#C2C2C2" stroke-width="0.65"/>
<line x1="288.60" y1="214.80" x2="288.60" y2="318.50" stroke="#C2C2C2" stroke-width="0.65"/>
<line x1="296.60" y1="214.80" x2="296.60" y2="318.50" stroke="#C2C2C2" stroke-width="0.65"/>
<line x1="304.60" y1="214.80" x2="304.60" y2="318.50" stroke="#C2C2C2" stroke-width="0.65"/>
<line x1="312.60" y1="214.80" x2="312.60" y2="318.50" stroke="#C2C2C2" stroke-width="0.65"/>
<line x1="320.60" y1="214.80" x2="320.60" y2="318.50" stroke="#C2C2C2" stroke-width="0.65"/>
<line x1="328.60" y1="214.80" x2="328.60" y2="318.50" stroke="#C2C2C2" stroke-width="0.65"/>
<line x1="336.60" y1="214.80" x2="336.60" y2="318.50" stroke="#C2C2C2" stroke-width="0.65"/>
<line x1="344.60" y1="214.80" x2="344.60" y2="318.50" stroke="#C2C2C2" stroke-width="0.65"/>
<line x1="352.60" y1="214.80" x2="352.60" y2="318.50" stroke="#C2C2C2" stroke-width="0.65"/>
<line x1="360.60" y1="214.80" x2="360.60" y2="318.50" stroke="#C2C2C2" stroke-width="0.65"/>
<line x1="368.60" y1="214.80" x2="368.60" y2="318.50" stroke="#C2C2C2" stroke-width="0.65"/>
<line x1="376.60" y1="214.80" x2="376.60" y2="318.50" stroke="#C2C2C2" stroke-width="0.65"/>
<line x1="384.60" y1="214.80" x2="384.60" y2="318.50" stroke="#C2C2C2" stroke-width="0.65"/>
<line x1="392.60" y1="214.80" x2="392.60" y2="318.50" stroke="#C2C2C2" stroke-width="0.65"/>
<polyline points="212.5,311.9 216.0,311.9 219.3,309.0 222.0,309.4 224.6,307.1 226.6,299.5 227.5,293.5 228.3,292.9 230.0,296.8 231.5,303.0 233.3,307.5 235.8,310.7 238.9,310.9 242.5,308.1 245.2,303.0 246.6,300.0 247.5,303.0 248.6,308.0 250.5,308.4 254.1,311.4 258.6,311.0 263.9,309.6 269.3,308.2 273.8,305.5 276.4,303.2" fill="none" stroke="#ED7D31" stroke-width="2.70" stroke-linecap="round" stroke-linejoin="round"/>
<polygon points="277.0,233.4 275.6,237.4 275.6,242.8 276.3,248.1 277.5,251.0 278.7,257.5 280.8,261.2 283.4,267.0 286.4,272.3 289.5,278.5 291.2,277.0 291.0,272.3 289.9,266.0 288.7,261.2 287.2,256.0 287.3,252.6 285.6,250.5 282.3,246.8 280.3,240.1 278.3,234.1" fill="#ED7D31" stroke="#ED7D31" stroke-width="1.2" stroke-linejoin="round"/>
<circle cx="275.0" cy="240.0" r="1.0" fill="#ED7D31"/>
<circle cx="275.2" cy="246.0" r="1.0" fill="#ED7D31"/>
<circle cx="279.6" cy="236.5" r="1.0" fill="#ED7D31"/>
<circle cx="281.8" cy="242.5" r="1.0" fill="#ED7D31"/>
<circle cx="284.3" cy="247.6" r="1.0" fill="#ED7D31"/>
<circle cx="288.2" cy="252.2" r="1.0" fill="#ED7D31"/>
<circle cx="288.6" cy="257.0" r="1.0" fill="#ED7D31"/>
<circle cx="276.4" cy="252.5" r="1.0" fill="#ED7D31"/>
<circle cx="283.0" cy="252.0" r="1.0" fill="#ED7D31"/>
<polyline points="290.6,281.2 293.8,280.8" fill="none" stroke="#ED7D31" stroke-width="2.40" stroke-linecap="round" stroke-linejoin="round"/>
<polyline points="292.0,285.7 295.9,289.1 299.8,293.0 302.6,295.8 306.5,301.3 308.2,303.4 309.5,306.0 312.2,310.0 315.6,313.4 319.6,315.4 324.6,315.6 333.6,316.5 342.5,316.9 351.4,316.5 358.6,315.6 365.7,314.7 372.5,313.6" fill="none" stroke="#ED7D31" stroke-width="2.70" stroke-linecap="round" stroke-linejoin="round"/>
<circle cx="275.8" cy="279.0" r="1.0" fill="#ED7D31"/>
<circle cx="278.6" cy="279.6" r="1.0" fill="#ED7D31"/>
<circle cx="277.5" cy="291.9" r="1.0" fill="#ED7D31"/>
<circle cx="279.2" cy="295.2" r="1.0" fill="#ED7D31"/>
<polyline points="212.1,311.4 215.7,311.4 219.3,308.4 222.0,308.9 224.6,306.6 226.8,300.4 227.9,295.9 229.1,301.3 231.4,307.5 234.5,310.7 238.9,310.2 242.5,307.5 245.2,302.1 246.6,297.1 248.2,302.1 250.5,307.5 254.1,310.7 258.6,310.2 263.9,308.9 268.0,307.8 272.5,305.2 276.4,303.0" fill="none" stroke="#5B9BD5" stroke-width="2.80" stroke-linecap="round" stroke-linejoin="round"/>
<polygon points="276.9,257.3 275.3,264.5 275.8,272.3 276.4,276.2 278.6,277.9 282.5,282.4 285.9,286.8 288.6,289.6 289.8,290.4 291.2,288.5 290.9,283.5 287.5,277.9 284.7,272.3 282.0,266.7 279.2,259.5" fill="#5B9BD5" stroke="#5B9BD5" stroke-width="1.2" stroke-linejoin="round"/>
<circle cx="274.8" cy="262.0" r="1.0" fill="#5B9BD5"/>
<circle cx="274.6" cy="268.0" r="1.0" fill="#5B9BD5"/>
<circle cx="275.0" cy="274.5" r="1.0" fill="#5B9BD5"/>
<circle cx="277.0" cy="278.2" r="1.0" fill="#5B9BD5"/>
<polyline points="289.8,293.0 291.4,296.9 295.9,300.2 301.5,301.9 305.9,303.0 310.4,305.8 312.4,308.6 315.6,312.2 319.6,314.2 324.6,314.1 333.6,315.0 342.5,315.4 351.4,315.0 358.6,314.1 365.7,313.2 372.5,311.4" fill="none" stroke="#5B9BD5" stroke-width="2.90" stroke-linecap="round" stroke-linejoin="round"/>
<circle cx="293.7" cy="289.6" r="1.2" fill="#5B9BD5"/>
<circle cx="295.3" cy="293.0" r="1.2" fill="#5B9BD5"/>
<circle cx="296.5" cy="294.3" r="1.2" fill="#5B9BD5"/>
<circle cx="299.3" cy="296.9" r="1.2" fill="#5B9BD5"/>
<circle cx="301.5" cy="299.1" r="1.2" fill="#5B9BD5"/>
<circle cx="300.4" cy="294.6" r="1.2" fill="#5B9BD5"/>
<circle cx="303.8" cy="300.9" r="1.2" fill="#5B9BD5"/>
<circle cx="275.8" cy="276.2" r="1.1" fill="#5B9BD5"/>
<circle cx="276.4" cy="279.6" r="1.1" fill="#5B9BD5"/>
<circle cx="276.9" cy="282.4" r="1.1" fill="#5B9BD5"/>
<circle cx="278.0" cy="293.0" r="1.1" fill="#5B9BD5"/>
<circle cx="276.4" cy="294.6" r="1.1" fill="#5B9BD5"/>
<circle cx="275.8" cy="298.0" r="1.1" fill="#5B9BD5"/>
<circle cx="276.4" cy="299.9" r="1.1" fill="#5B9BD5"/>
<line x1="192.60" y1="214.20" x2="192.60" y2="321.70" stroke="#000" stroke-width="1.5"/>
<line x1="189.20" y1="318.50" x2="393.10" y2="318.50" stroke="#000" stroke-width="1.5"/>
<text x="182.80" y="321.70" font-size="10.30" text-anchor="end" font-weight="normal" stroke="#1a1a1a" stroke-width="0.22" >0</text>
<line x1="189.20" y1="297.76" x2="192.60" y2="297.76" stroke="#000" stroke-width="1.4"/>
<text x="182.80" y="300.96" font-size="10.30" text-anchor="end" font-weight="normal" stroke="#1a1a1a" stroke-width="0.22" >50</text>
<line x1="189.20" y1="277.02" x2="192.60" y2="277.02" stroke="#000" stroke-width="1.4"/>
<text x="182.80" y="280.22" font-size="10.30" text-anchor="end" font-weight="normal" stroke="#1a1a1a" stroke-width="0.22" >100</text>
<line x1="189.20" y1="256.28" x2="192.60" y2="256.28" stroke="#000" stroke-width="1.4"/>
<text x="182.80" y="259.48" font-size="10.30" text-anchor="end" font-weight="normal" stroke="#1a1a1a" stroke-width="0.22" >150</text>
<line x1="189.20" y1="235.54" x2="192.60" y2="235.54" stroke="#000" stroke-width="1.4"/>
<text x="182.80" y="238.74" font-size="10.30" text-anchor="end" font-weight="normal" stroke="#1a1a1a" stroke-width="0.22" >200</text>
<line x1="189.20" y1="214.80" x2="192.60" y2="214.80" stroke="#000" stroke-width="1.4"/>
<text x="182.80" y="218.00" font-size="10.30" text-anchor="end" font-weight="normal" stroke="#1a1a1a" stroke-width="0.22" >250</text>
<text x="192.60" y="336.10" font-size="10.30" text-anchor="middle" font-weight="normal" stroke="#1a1a1a" stroke-width="0.22" >0</text>
<line x1="232.60" y1="318.50" x2="232.60" y2="321.70" stroke="#000" stroke-width="1.4"/>
<text x="232.60" y="336.10" font-size="10.30" text-anchor="middle" font-weight="normal" stroke="#1a1a1a" stroke-width="0.22" >1000</text>
<line x1="272.60" y1="318.50" x2="272.60" y2="321.70" stroke="#000" stroke-width="1.4"/>
<text x="272.60" y="336.10" font-size="10.30" text-anchor="middle" font-weight="normal" stroke="#1a1a1a" stroke-width="0.22" >2000</text>
<line x1="312.60" y1="318.50" x2="312.60" y2="321.70" stroke="#000" stroke-width="1.4"/>
<text x="312.60" y="336.10" font-size="10.30" text-anchor="middle" font-weight="normal" stroke="#1a1a1a" stroke-width="0.22" >3000</text>
<line x1="352.60" y1="318.50" x2="352.60" y2="321.70" stroke="#000" stroke-width="1.4"/>
<text x="352.60" y="336.10" font-size="10.30" text-anchor="middle" font-weight="normal" stroke="#1a1a1a" stroke-width="0.22" >4000</text>
<line x1="392.60" y1="318.50" x2="392.60" y2="321.70" stroke="#000" stroke-width="1.4"/>
<text x="392.60" y="336.10" font-size="10.30" text-anchor="middle" font-weight="normal" stroke="#1a1a1a" stroke-width="0.22" >5000</text>
<text x="292.50" y="352.50" font-size="10.30" text-anchor="middle" font-weight="normal" textLength="103.50" lengthAdjust="spacingAndGlyphs" stroke="#1a1a1a" stroke-width="0.22" >Rotational Speed [rpm]</text>
<text x="0.00" y="0.00" font-size="10.30" text-anchor="middle" font-weight="normal" textLength="63.50" lengthAdjust="spacingAndGlyphs" stroke="#1a1a1a" stroke-width="0.22" transform="translate(160.9,265.65) rotate(-90)">P2P DTE [um]</text>
<text x="294.40" y="198.30" font-size="10.20" text-anchor="middle" font-weight="bold" stroke="#1a1a1a" stroke-width="0.08" >40°-180°</text>
<circle cx="421.5" cy="275.6" r="1.3" fill="#ED7D31"/>
<circle cx="421.5" cy="294.6" r="1.3" fill="#5B9BD5"/>
<text x="427.60" y="279.00" font-size="10.20" text-anchor="start" font-weight="normal" textLength="13.20" lengthAdjust="spacingAndGlyphs" stroke="#1a1a1a" stroke-width="0.22" >1-2</text>
<text x="427.40" y="298.20" font-size="10.20" text-anchor="start" font-weight="normal" textLength="13.40" lengthAdjust="spacingAndGlyphs" stroke="#1a1a1a" stroke-width="0.22" >2-3</text>
<line x1="192.60" y1="501.98" x2="392.50" y2="501.98" stroke="#ACACAC" stroke-width="0.55"/>
<line x1="192.60" y1="497.86" x2="392.50" y2="497.86" stroke="#ACACAC" stroke-width="0.55"/>
<line x1="192.60" y1="493.74" x2="392.50" y2="493.74" stroke="#ACACAC" stroke-width="0.55"/>
<line x1="192.60" y1="489.62" x2="392.50" y2="489.62" stroke="#ACACAC" stroke-width="0.55"/>
<line x1="192.60" y1="485.50" x2="392.50" y2="485.50" stroke="#ACACAC" stroke-width="0.55"/>
<line x1="192.60" y1="481.38" x2="392.50" y2="481.38" stroke="#ACACAC" stroke-width="0.55"/>
<line x1="192.60" y1="477.26" x2="392.50" y2="477.26" stroke="#ACACAC" stroke-width="0.55"/>
<line x1="192.60" y1="473.14" x2="392.50" y2="473.14" stroke="#ACACAC" stroke-width="0.55"/>
<line x1="192.60" y1="469.02" x2="392.50" y2="469.02" stroke="#ACACAC" stroke-width="0.55"/>
<line x1="192.60" y1="464.90" x2="392.50" y2="464.90" stroke="#ACACAC" stroke-width="0.55"/>
<line x1="192.60" y1="460.78" x2="392.50" y2="460.78" stroke="#ACACAC" stroke-width="0.55"/>
<line x1="192.60" y1="456.66" x2="392.50" y2="456.66" stroke="#ACACAC" stroke-width="0.55"/>
<line x1="192.60" y1="452.54" x2="392.50" y2="452.54" stroke="#ACACAC" stroke-width="0.55"/>
<line x1="192.60" y1="448.42" x2="392.50" y2="448.42" stroke="#ACACAC" stroke-width="0.55"/>
<line x1="192.60" y1="444.30" x2="392.50" y2="444.30" stroke="#ACACAC" stroke-width="0.55"/>
<line x1="192.60" y1="440.18" x2="392.50" y2="440.18" stroke="#ACACAC" stroke-width="0.55"/>
<line x1="192.60" y1="436.06" x2="392.50" y2="436.06" stroke="#ACACAC" stroke-width="0.55"/>
<line x1="192.60" y1="431.94" x2="392.50" y2="431.94" stroke="#ACACAC" stroke-width="0.55"/>
<line x1="192.60" y1="427.82" x2="392.50" y2="427.82" stroke="#ACACAC" stroke-width="0.55"/>
<line x1="192.60" y1="423.70" x2="392.50" y2="423.70" stroke="#ACACAC" stroke-width="0.55"/>
<line x1="192.60" y1="419.58" x2="392.50" y2="419.58" stroke="#ACACAC" stroke-width="0.55"/>
<line x1="192.60" y1="415.46" x2="392.50" y2="415.46" stroke="#ACACAC" stroke-width="0.55"/>
<line x1="192.60" y1="411.34" x2="392.50" y2="411.34" stroke="#ACACAC" stroke-width="0.55"/>
<line x1="192.60" y1="407.22" x2="392.50" y2="407.22" stroke="#ACACAC" stroke-width="0.55"/>
<line x1="192.60" y1="403.10" x2="392.50" y2="403.10" stroke="#ACACAC" stroke-width="0.55"/>
<line x1="200.60" y1="403.10" x2="200.60" y2="506.10" stroke="#C2C2C2" stroke-width="0.65"/>
<line x1="208.60" y1="403.10" x2="208.60" y2="506.10" stroke="#C2C2C2" stroke-width="0.65"/>
<line x1="216.60" y1="403.10" x2="216.60" y2="506.10" stroke="#C2C2C2" stroke-width="0.65"/>
<line x1="224.60" y1="403.10" x2="224.60" y2="506.10" stroke="#C2C2C2" stroke-width="0.65"/>
<line x1="232.60" y1="403.10" x2="232.60" y2="506.10" stroke="#C2C2C2" stroke-width="0.65"/>
<line x1="240.60" y1="403.10" x2="240.60" y2="506.10" stroke="#C2C2C2" stroke-width="0.65"/>
<line x1="248.60" y1="403.10" x2="248.60" y2="506.10" stroke="#C2C2C2" stroke-width="0.65"/>
<line x1="256.60" y1="403.10" x2="256.60" y2="506.10" stroke="#C2C2C2" stroke-width="0.65"/>
<line x1="264.60" y1="403.10" x2="264.60" y2="506.10" stroke="#C2C2C2" stroke-width="0.65"/>
<line x1="272.60" y1="403.10" x2="272.60" y2="506.10" stroke="#C2C2C2" stroke-width="0.65"/>
<line x1="280.60" y1="403.10" x2="280.60" y2="506.10" stroke="#C2C2C2" stroke-width="0.65"/>
<line x1="288.60" y1="403.10" x2="288.60" y2="506.10" stroke="#C2C2C2" stroke-width="0.65"/>
<line x1="296.60" y1="403.10" x2="296.60" y2="506.10" stroke="#C2C2C2" stroke-width="0.65"/>
<line x1="304.60" y1="403.10" x2="304.60" y2="506.10" stroke="#C2C2C2" stroke-width="0.65"/>
<line x1="312.60" y1="403.10" x2="312.60" y2="506.10" stroke="#C2C2C2" stroke-width="0.65"/>
<line x1="320.60" y1="403.10" x2="320.60" y2="506.10" stroke="#C2C2C2" stroke-width="0.65"/>
<line x1="328.60" y1="403.10" x2="328.60" y2="506.10" stroke="#C2C2C2" stroke-width="0.65"/>
<line x1="336.60" y1="403.10" x2="336.60" y2="506.10" stroke="#C2C2C2" stroke-width="0.65"/>
<line x1="344.60" y1="403.10" x2="344.60" y2="506.10" stroke="#C2C2C2" stroke-width="0.65"/>
<line x1="352.60" y1="403.10" x2="352.60" y2="506.10" stroke="#C2C2C2" stroke-width="0.65"/>
<line x1="360.60" y1="403.10" x2="360.60" y2="506.10" stroke="#C2C2C2" stroke-width="0.65"/>
<line x1="368.60" y1="403.10" x2="368.60" y2="506.10" stroke="#C2C2C2" stroke-width="0.65"/>
<line x1="376.60" y1="403.10" x2="376.60" y2="506.10" stroke="#C2C2C2" stroke-width="0.65"/>
<line x1="384.60" y1="403.10" x2="384.60" y2="506.10" stroke="#C2C2C2" stroke-width="0.65"/>
<line x1="392.60" y1="403.10" x2="392.60" y2="506.10" stroke="#C2C2C2" stroke-width="0.65"/>
<polyline points="274.0,423.2 275.6,426.9 280.2,435.9 284.0,444.8 287.6,453.7 288.4,458.9 293.9,467.9 296.6,475.0" fill="none" stroke="#ED7D31" stroke-width="2.60" stroke-linecap="round" stroke-linejoin="round"/>
<circle cx="277.6" cy="428.6" r="1.1" fill="#ED7D31"/>
<circle cx="281.5" cy="435.6" r="1.1" fill="#ED7D31"/>
<circle cx="285.6" cy="445.5" r="1.1" fill="#ED7D31"/>
<circle cx="286.9" cy="448.2" r="1.1" fill="#ED7D31"/>
<circle cx="288.9" cy="453.5" r="1.1" fill="#ED7D31"/>
<polyline points="278.0,469.4 278.6,473.0 281.2,477.8 284.8,482.3 289.2,486.3 296.4,489.9 303.7,492.3 307.5,493.7 312.9,497.0 318.2,500.4 322.0,502.3 328.2,503.4 337.1,504.5 346.1,505.2 353.2,503.9 360.4,502.1 366.6,500.7 370.2,499.8 372.5,497.5" fill="none" stroke="#ED7D31" stroke-width="2.40" stroke-linecap="round" stroke-linejoin="round"/>
<polyline points="368.4,479.3 372.5,480.2" fill="none" stroke="#ED7D31" stroke-width="2.20" stroke-linecap="round" stroke-linejoin="round"/>
<polyline points="212.4,499.3 215.1,497.5 218.7,499.3 222.3,498.8 224.9,496.4 227.6,493.4 228.5,490.7" fill="none" stroke="#5B9BD5" stroke-width="2.40" stroke-linecap="round" stroke-linejoin="round"/>
<polyline points="226.4,473.8 227.6,477.3 229.4,482.7 231.2,488.9 233.0,495.2 235.7,498.8 239.2,500.0 243.7,499.6 248.2,501.1 253.5,500.5 258.9,499.3 265.1,497.5 270.5,495.2 273.4,493.2 275.0,491.8" fill="none" stroke="#5B9BD5" stroke-width="2.40" stroke-linecap="round" stroke-linejoin="round"/>
<polygon points="274.5,426.0 274.0,428.5 273.7,431.4 274.4,435.9 275.0,440.4 276.1,444.8 277.4,450.2 278.4,458.9 280.7,464.3 286.5,467.9 291.4,476.8 298.6,485.7 305.7,492.0 308.6,490.0 304.4,485.7 296.0,476.8 293.6,468.5 287.0,458.9 285.3,453.7 282.0,444.8 278.9,435.9 275.4,427.2" fill="#5B9BD5" stroke="#5B9BD5" stroke-width="1.2" stroke-linejoin="round"/>
<polyline points="305.5,488.5 311.6,492.3 316.9,496.0 322.0,499.2 328.2,500.7 337.1,502.0 346.1,502.1 353.2,500.7 360.4,499.3 366.6,498.9 370.2,498.0 372.5,495.4" fill="none" stroke="#5B9BD5" stroke-width="2.50" stroke-linecap="round" stroke-linejoin="round"/>
<polyline points="277.8,469.6 278.9,472.3 281.6,476.8 285.2,481.3 289.6,485.3 296.8,488.8 303.9,491.1 307.5,492.5 312.0,494.5" fill="none" stroke="#5B9BD5" stroke-width="3.00" stroke-linecap="round" stroke-linejoin="round"/>
<circle cx="283.4" cy="467.9" r="1.2" fill="#5B9BD5"/>
<circle cx="286.1" cy="471.4" r="1.2" fill="#5B9BD5"/>
<circle cx="289.2" cy="475.9" r="1.2" fill="#5B9BD5"/>
<circle cx="292.8" cy="480.4" r="1.2" fill="#5B9BD5"/>
<circle cx="295.9" cy="483.9" r="1.2" fill="#5B9BD5"/>
<circle cx="284.0" cy="471.5" r="1.2" fill="#5B9BD5"/>
<circle cx="287.5" cy="476.5" r="1.2" fill="#5B9BD5"/>
<circle cx="291.0" cy="481.5" r="1.2" fill="#5B9BD5"/>
<circle cx="294.5" cy="485.5" r="1.2" fill="#5B9BD5"/>
<circle cx="283.2" cy="468.6" r="1.1" fill="#ED7D31"/>
<circle cx="284.3" cy="474.1" r="1.1" fill="#ED7D31"/>
<circle cx="286.5" cy="478.0" r="1.1" fill="#ED7D31"/>
<circle cx="293.7" cy="483.0" r="1.1" fill="#ED7D31"/>
<circle cx="290.5" cy="473.2" r="1.1" fill="#ED7D31"/>
<circle cx="278.2" cy="469.0" r="1.1" fill="#ED7D31"/>
<circle cx="274.3" cy="456.4" r="1.3" fill="#5B9BD5"/>
<circle cx="274.3" cy="459.3" r="1.3" fill="#5B9BD5"/>
<circle cx="274.0" cy="462.0" r="1.3" fill="#5B9BD5"/>
<circle cx="274.2" cy="464.8" r="1.3" fill="#5B9BD5"/>
<circle cx="273.8" cy="467.6" r="1.3" fill="#5B9BD5"/>
<circle cx="274.0" cy="470.4" r="1.3" fill="#5B9BD5"/>
<circle cx="274.5" cy="459.2" r="1.0" fill="#ED7D31"/>
<circle cx="273.5" cy="467.9" r="1.0" fill="#ED7D31"/>
<polyline points="368.4,482.2 372.5,483.4" fill="none" stroke="#5B9BD5" stroke-width="2.70" stroke-linecap="round" stroke-linejoin="round"/>
<line x1="192.60" y1="402.50" x2="192.60" y2="509.30" stroke="#000" stroke-width="1.5"/>
<line x1="189.20" y1="506.10" x2="393.10" y2="506.10" stroke="#000" stroke-width="1.5"/>
<text x="182.80" y="508.90" font-size="10.30" text-anchor="end" font-weight="normal" stroke="#1a1a1a" stroke-width="0.22" >0</text>
<line x1="189.20" y1="485.50" x2="192.60" y2="485.50" stroke="#000" stroke-width="1.4"/>
<text x="182.80" y="488.30" font-size="10.30" text-anchor="end" font-weight="normal" stroke="#1a1a1a" stroke-width="0.22" >50</text>
<line x1="189.20" y1="464.90" x2="192.60" y2="464.90" stroke="#000" stroke-width="1.4"/>
<text x="182.80" y="467.70" font-size="10.30" text-anchor="end" font-weight="normal" stroke="#1a1a1a" stroke-width="0.22" >100</text>
<line x1="189.20" y1="444.30" x2="192.60" y2="444.30" stroke="#000" stroke-width="1.4"/>
<text x="182.80" y="447.10" font-size="10.30" text-anchor="end" font-weight="normal" stroke="#1a1a1a" stroke-width="0.22" >150</text>
<line x1="189.20" y1="423.70" x2="192.60" y2="423.70" stroke="#000" stroke-width="1.4"/>
<text x="182.80" y="426.50" font-size="10.30" text-anchor="end" font-weight="normal" stroke="#1a1a1a" stroke-width="0.22" >200</text>
<line x1="189.20" y1="403.10" x2="192.60" y2="403.10" stroke="#000" stroke-width="1.4"/>
<text x="182.80" y="405.90" font-size="10.30" text-anchor="end" font-weight="normal" stroke="#1a1a1a" stroke-width="0.22" >250</text>
<text x="192.60" y="523.70" font-size="10.30" text-anchor="middle" font-weight="normal" stroke="#1a1a1a" stroke-width="0.22" >0</text>
<line x1="232.60" y1="506.10" x2="232.60" y2="509.30" stroke="#000" stroke-width="1.4"/>
<text x="232.60" y="523.70" font-size="10.30" text-anchor="middle" font-weight="normal" stroke="#1a1a1a" stroke-width="0.22" >1000</text>
<line x1="272.60" y1="506.10" x2="272.60" y2="509.30" stroke="#000" stroke-width="1.4"/>
<text x="272.60" y="523.70" font-size="10.30" text-anchor="middle" font-weight="normal" stroke="#1a1a1a" stroke-width="0.22" >2000</text>
<line x1="312.60" y1="506.10" x2="312.60" y2="509.30" stroke="#000" stroke-width="1.4"/>
<text x="312.60" y="523.70" font-size="10.30" text-anchor="middle" font-weight="normal" stroke="#1a1a1a" stroke-width="0.22" >3000</text>
<line x1="352.60" y1="506.10" x2="352.60" y2="509.30" stroke="#000" stroke-width="1.4"/>
<text x="352.60" y="523.70" font-size="10.30" text-anchor="middle" font-weight="normal" stroke="#1a1a1a" stroke-width="0.22" >4000</text>
<line x1="392.60" y1="506.10" x2="392.60" y2="509.30" stroke="#000" stroke-width="1.4"/>
<text x="392.60" y="523.70" font-size="10.30" text-anchor="middle" font-weight="normal" stroke="#1a1a1a" stroke-width="0.22" >5000</text>
<text x="292.50" y="540.10" font-size="10.30" text-anchor="middle" font-weight="normal" textLength="103.50" lengthAdjust="spacingAndGlyphs" stroke="#1a1a1a" stroke-width="0.22" >Rotational Speed [rpm]</text>
<text x="0.00" y="0.00" font-size="10.30" text-anchor="middle" font-weight="normal" textLength="63.50" lengthAdjust="spacingAndGlyphs" stroke="#1a1a1a" stroke-width="0.22" transform="translate(160.9,453.60) rotate(-90)">P2P DTE [um]</text>
<text x="294.40" y="386.80" font-size="10.20" text-anchor="middle" font-weight="bold" stroke="#1a1a1a" stroke-width="0.08" >0°-90°</text>
<circle cx="421.5" cy="463.7" r="1.3" fill="#ED7D31"/>
<circle cx="421.5" cy="483.0" r="1.3" fill="#5B9BD5"/>
<text x="427.60" y="467.10" font-size="10.20" text-anchor="start" font-weight="normal" textLength="13.20" lengthAdjust="spacingAndGlyphs" stroke="#1a1a1a" stroke-width="0.22" >1-2</text>
<text x="427.40" y="486.30" font-size="10.20" text-anchor="start" font-weight="normal" textLength="13.40" lengthAdjust="spacingAndGlyphs" stroke="#1a1a1a" stroke-width="0.22" >2-3</text>
</svg>
</body></html>
